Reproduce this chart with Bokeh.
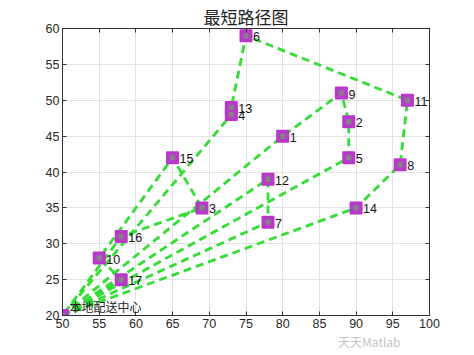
from bokeh.plotting import figure
from bokeh.models import (ColumnDataSource, LinearAxis, FixedTicker, Label, Range1d, Title)
from bokeh.core.properties import value
from bokeh.embed import file_html
from bokeh.resources import INLINE

# customer points (index 0 = depot)
depot_name = "本地配送中心"
names = ["1", "2", "3", "4", "5", "6", "7", "8", "9",
         "10", "11", "12", "13", "14", "15", "16", "17"]
depot_x, depot_y = 50, 20
px = [80, 89, 69, 73, 89, 75, 78, 96, 88, 55, 97, 78, 73, 90, 65, 58, 58]
py = [45, 47, 35, 48, 42, 59, 33, 41, 51, 28, 50, 39, 49, 35, 42, 31, 25]

# vehicle routes (0 = depot, k = customer k)
routes = [
    [0, 17, 10, 15, 3, 16, 0],
    [0, 4, 13, 6, 11, 8, 14, 0],
    [0, 1, 9, 2, 5, 0],
    [0, 12, 7, 0],
]

x_ticks = [50, 55, 60, 65, 70, 75, 80, 85, 90, 95, 100]
y_ticks = [20, 25, 30, 35, 40, 45, 50, 55, 60]

allx = [depot_x] + px
ally = [depot_y] + py

p = figure(frame_width=367, frame_height=287, output_backend="svg",
           toolbar_location=None, x_range=Range1d(50, 100), y_range=Range1d(20, 60),
           min_border_left=62, min_border_right=45, min_border_top=28,
           min_border_bottom=40, background_fill_color="white")
p.title.text = "最短路径图"
p.title.align = "center"
p.title.text_font = "Noto Sans CJK SC"
p.title.text_font_size = "17px"
p.title.text_font_style = "normal"
p.title.text_color = "#222222"
p.title.standoff = 0

for ax, ticks in ((p.xaxis[0], x_ticks), (p.yaxis[0], y_ticks)):
    ax.ticker = FixedTicker(ticks=ticks)
    ax.major_tick_in = 4
    ax.major_tick_out = 0
    ax.minor_tick_line_color = None
    ax.axis_line_color = "#333333"
    ax.major_tick_line_color = "#333333"
    ax.major_label_text_font = "Liberation Sans"
    ax.major_label_text_font_size = "12.5px"
    ax.major_label_text_color = "#262626"
    ax.major_label_standoff = 3

for loc, ticks in (("above", x_ticks), ("right", y_ticks)):
    ax = LinearAxis(ticker=FixedTicker(ticks=ticks))
    ax.major_tick_in = 4
    ax.major_tick_out = 0
    ax.minor_tick_line_color = None
    ax.axis_line_color = "#333333"
    ax.major_tick_line_color = "#333333"
    ax.major_label_text_font_size = "0px"
    ax.major_label_standoff = 0
    p.add_layout(ax, loc)

p.xgrid.ticker = FixedTicker(ticks=x_ticks)
p.ygrid.ticker = FixedTicker(ticks=y_ticks)
p.grid.grid_line_color = "#e3e3e3"
p.grid.grid_line_width = 1
p.outline_line_color = "#333333"

for r in routes:
    p.line([allx[i] for i in r], [ally[i] for i in r], line_color="#33dd33",
           line_width=2.8, line_dash="8 5")

src = ColumnDataSource(dict(x=allx, y=ally))
p.scatter("x", "y", source=src, marker="square", size=11.5,
          fill_color="#b040c0", line_color="#c030d0", line_width=1.5)
p.scatter("x", "y", source=src, marker="square", size=5,
          fill_color="#8c7f8c", line_color=None)

lsrc = ColumnDataSource(dict(x=px, y=py, name=names))
p.text("x", "y", text="name", source=lsrc, x_offset=7, y_offset=1,
       text_baseline="middle", text_font=value("Liberation Sans"),
       text_font_size="12.5px", text_color="#111111")

# depot label, kept just inside the plot frame
p.add_layout(Label(x=depot_x, y=depot_y, text=depot_name, x_offset=7, y_offset=1,
                   text_baseline="bottom", text_font="Noto Sans CJK SC",
                   text_font_size="12px", text_color="#222222"))

# watermark below the axis, right side
wm = Title(text="天天Matlab", align="right", offset=29, standoff=0,
           text_font="Noto Sans CJK SC", text_font_size="12px",
           text_font_style="normal", text_color="#c4c4c4")
p.add_layout(wm, "below")

open("out.html", "w").write(file_html(p, INLINE))
